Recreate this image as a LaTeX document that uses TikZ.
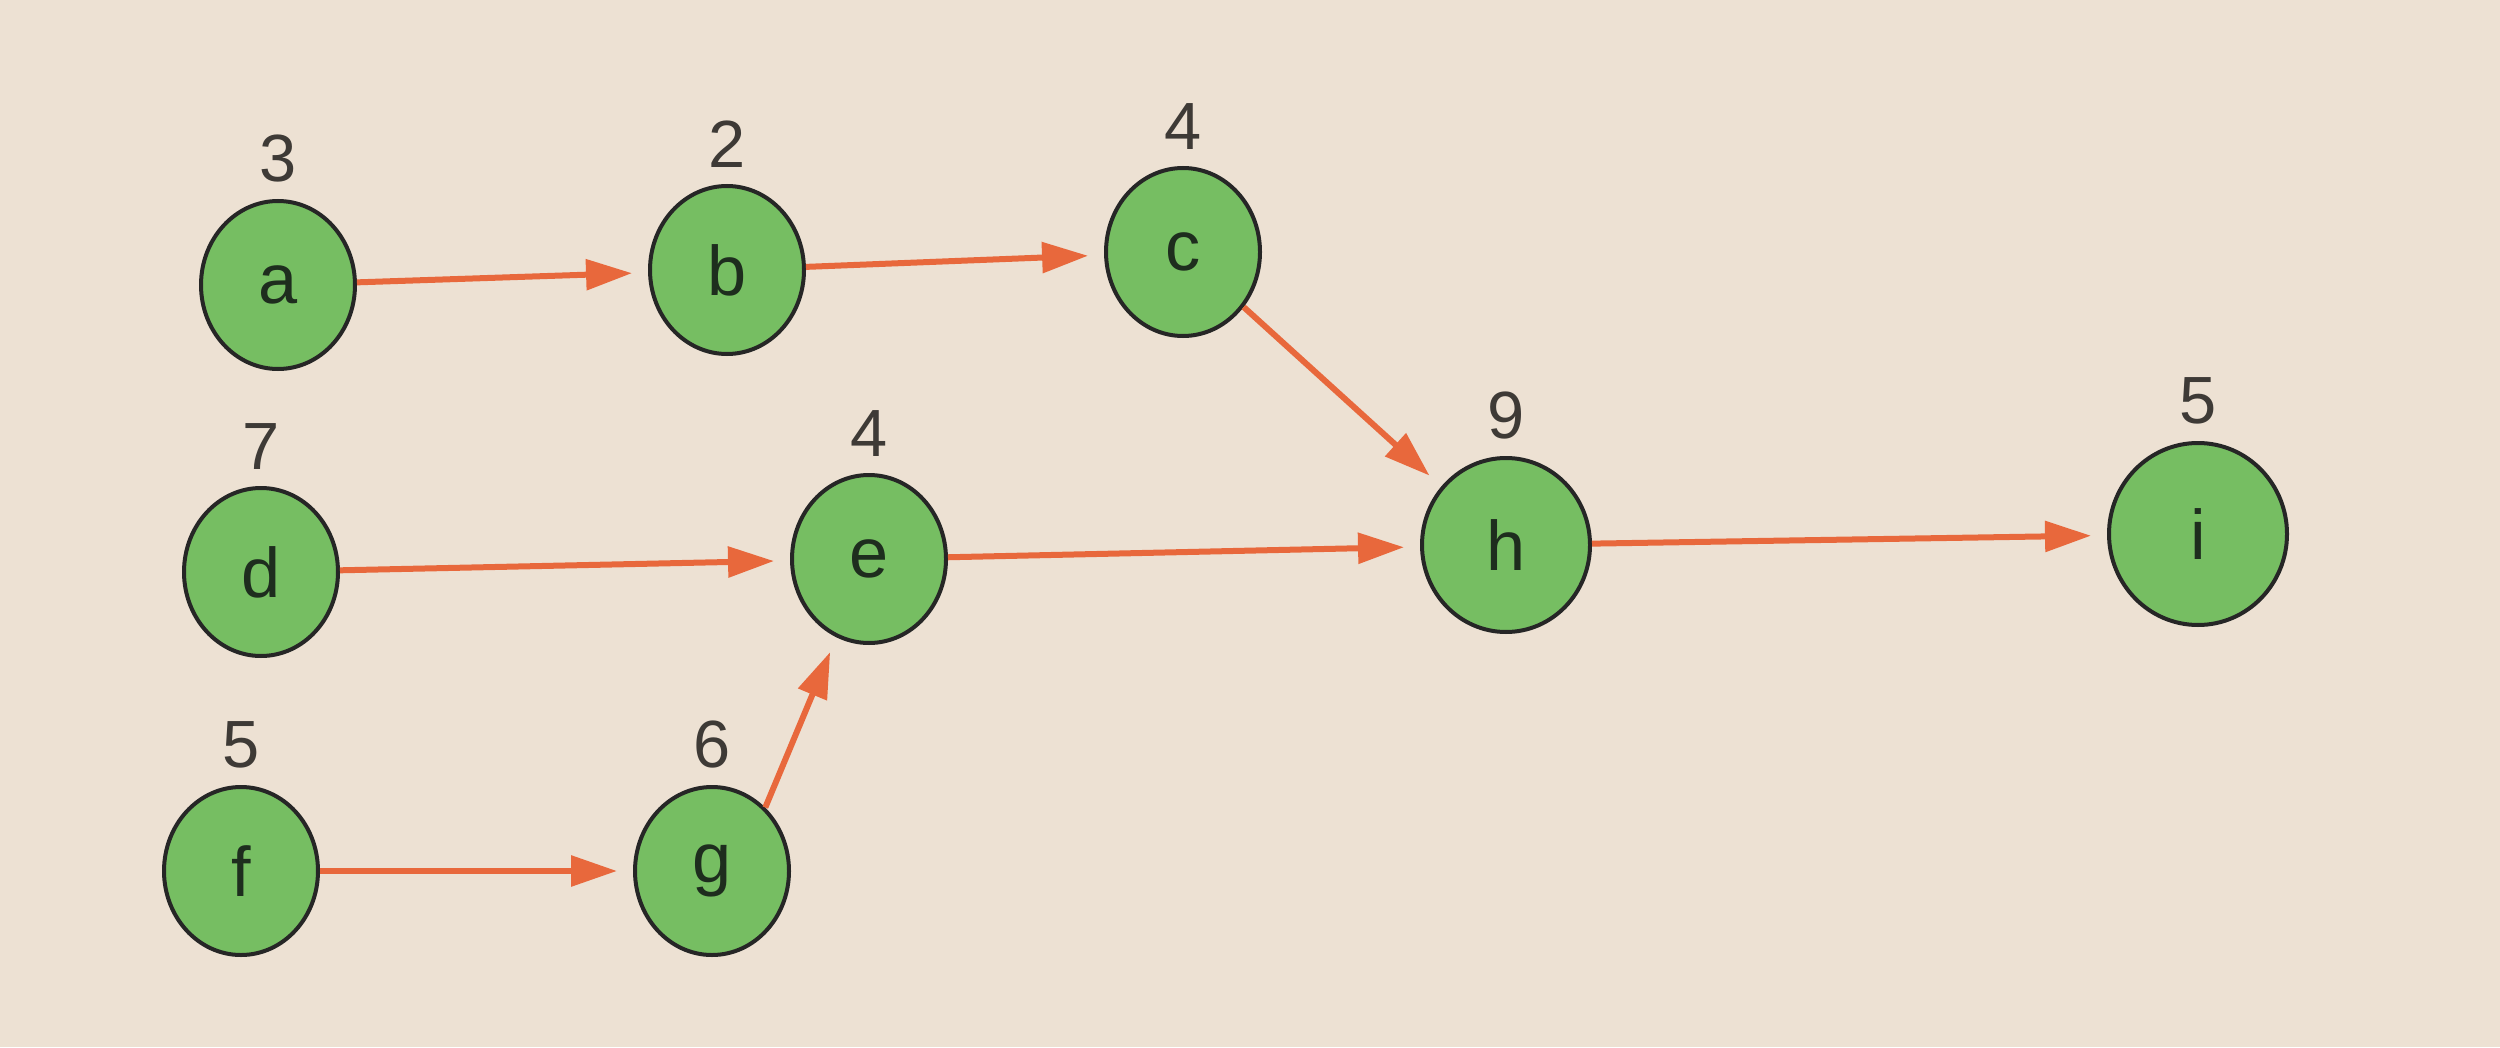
\documentclass[tikz,border=0pt]{standalone}
\usepackage{fontspec}
\setmainfont{Liberation Sans}
\usetikzlibrary{shapes,arrows.meta,positioning}
\definecolor{pagebg}{RGB}{237,225,211}
\definecolor{taskgreen}{RGB}{118,190,98}
\definecolor{taskink}{RGB}{30,45,30}
\definecolor{linkorange}{RGB}{232,104,60}
\definecolor{timegray}{RGB}{62,58,54}

\begin{document}
\begin{tikzpicture}[
    task/.style={ellipse, draw=black!85, line width=0.4mm, fill=taskgreen, text=taskink, minimum width=1.54cm, minimum height=1.68cm, inner sep=0pt, font=\fontsize{20}{20}\selectfont},
    time/.style={text=timegray, inner sep=0pt, label distance=1.6mm, font=\fontsize{19}{19}\selectfont},
    link/.style={draw=linkorange, line width=0.6mm, -{Triangle[length=4.6mm,width=3mm]}, shorten >=1.6mm}
]
    \useasboundingbox (0,0) rectangle (25,10.47);
    \fill[pagebg] (0,0) rectangle (25,10.47);

    \node[task, label={[time]above:3}] (a) at (2.78,7.62) {a};
    \node[task, label={[time]above:2}, right=2.91cm of a, yshift=1.5mm] (b) {b};
    \node[task, label={[time]above:4}, right=2.98cm of b, yshift=1.8mm] (c) {c};
    \node[task, label={[time]above:7}, below=1.15cm of a, xshift=-1.7mm] (d) {d};
    \node[task, label={[time]above:4}, right=4.5cm of d, yshift=1.3mm] (e) {e};
    \node[task, label={[time]above:9}, right=4.72cm of e, yshift=1.4mm, minimum width=1.68cm, minimum height=1.74cm] (h) {h};
    \node[task, label={[time]above:5}, right=5.15cm of h, yshift=1.1mm, minimum width=1.78cm, minimum height=1.82cm] (i) {i};
    \node[task, label={[time]above:5}, below=1.27cm of d, xshift=-2mm] (f) {f};
    \node[task, label={[time]above:6}, right=3.13cm of f] (g) {g};

    \draw[link] (a) -- (b);
    \draw[link] (b) -- (c);
    \draw[link] (c) -- (h);
    \draw[link] (d) -- (e);
    \draw[link] (e) -- (h);
    \draw[link] (h) -- (i);
    \draw[link] (f) -- (g);
    \draw[link] (g.50) -- (e);
\end{tikzpicture}
\end{document}
